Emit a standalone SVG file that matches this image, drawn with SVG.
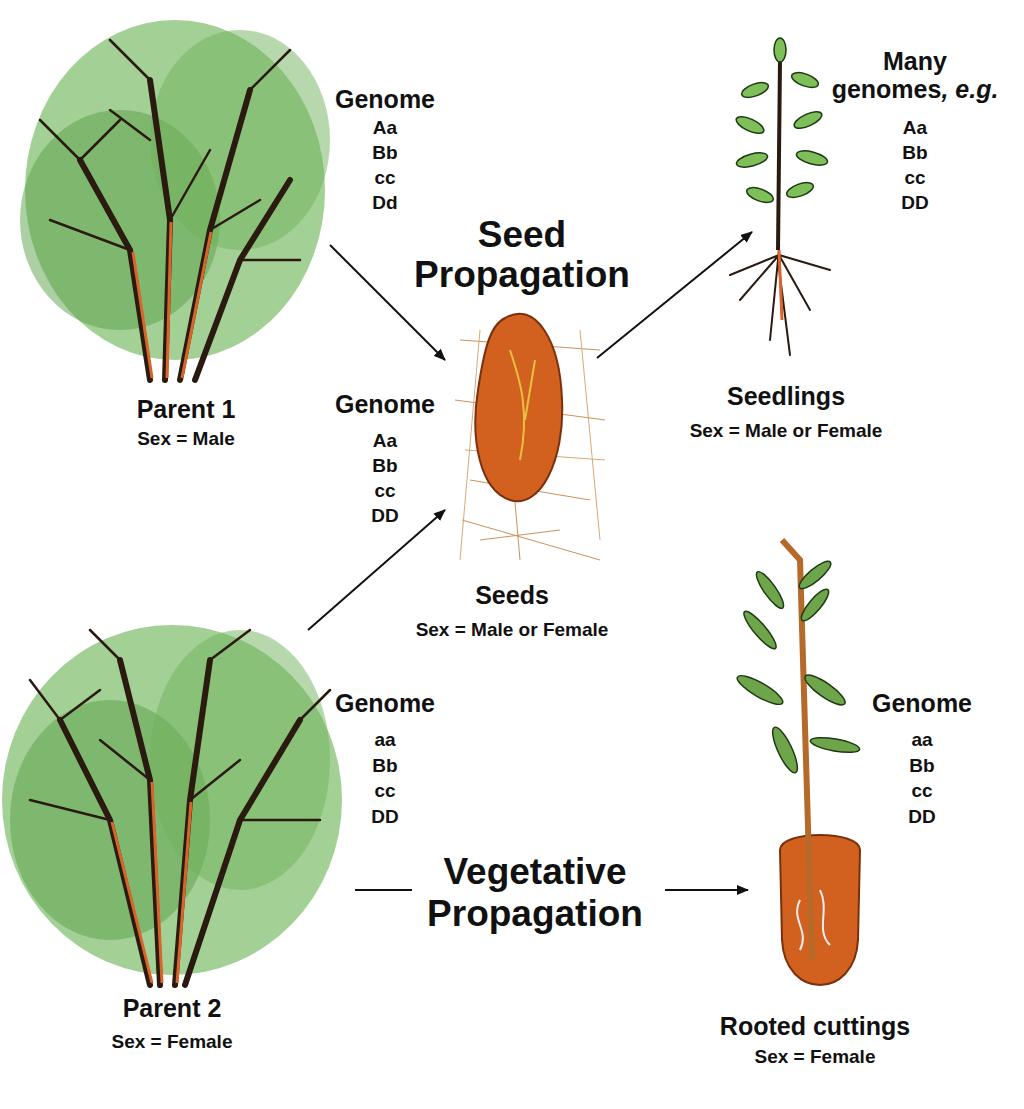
<svg xmlns="http://www.w3.org/2000/svg" width="1024" height="1109" viewBox="0 0 1024 1109">
<defs>
<style>
text{font-family:"Liberation Sans",Arial,sans-serif;font-weight:bold;fill:#111;text-anchor:middle}
.h{font-size:25px}.g{font-size:19px}.t{font-size:37px}.s{font-size:19px}
.con{stroke:#111;stroke-width:2;fill:none}
.leaf{fill:#7fbf5a;stroke:#1d3a12;stroke-width:1.5}
.br{stroke:#2a1a10;fill:none;stroke-linecap:round}
.tr{stroke:#d9652a;stroke-width:3;fill:none}
</style>
<marker id="a" markerWidth="12" markerHeight="10" refX="11" refY="5" orient="auto" markerUnits="userSpaceOnUse"><path d="M0,0L12,5L0,10z" fill="#111"/></marker>
</defs>
<rect width="1024" height="1109" fill="#fff"/>
<g id="parent1">
<ellipse cx="175" cy="190" rx="150" ry="170" fill="#8cc47a" opacity="0.8"/>
<ellipse cx="120" cy="220" rx="100" ry="110" fill="#5aa04a" opacity="0.5"/>
<ellipse cx="240" cy="140" rx="90" ry="110" fill="#6fb25c" opacity="0.5"/>
<path class="br" stroke-width="6" d="M150,380 L130,250 L80,160 M165,380 L170,220 L150,80 M180,380 L210,230 L250,90 M195,380 L240,260 L290,180"/>
<path class="br" stroke-width="2.5" d="M130,250 L50,220 M80,160 L40,120 M150,80 L110,40 M170,220 L210,150 M210,230 L260,200 M250,90 L290,50 M240,260 L300,260 M80,160 L120,120 M150,140 L110,110"/>
<path class="tr" d="M152,378 L133,252 M167,378 L171,222 M182,378 L211,232"/>
<text class="h" x="186" y="418">Parent 1</text>
<text class="s" x="186" y="445">Sex = Male</text>
</g>
<g id="genome1">
<text class="h" x="385" y="108">Genome</text>
<text class="g" x="385" y="134">Aa</text><text class="g" x="385" y="159">Bb</text><text class="g" x="385" y="184">cc</text><text class="g" x="385" y="209">Dd</text>
</g>
<g id="seedprop"><text class="t" x="522" y="247">Seed</text><text class="t" x="522" y="287">Propagation</text></g>
<g id="seeds">
<path d="M460,340 L600,350 M455,400 L605,420 M470,480 L590,500 M480,540 L560,530 M462,520 L600,560 M500,330 L520,560" stroke="#c8925a" stroke-width="1" fill="none"/>
<path d="M480,330 L460,560 M580,330 L600,540 M465,450 L605,460" stroke="#d8a878" stroke-width="1" fill="none"/>
<path d="M505,318 C535,300 560,340 562,400 C565,460 540,510 510,500 C480,490 470,440 478,390 C484,350 490,325 505,318Z" fill="#d2601f" stroke="#7a300c" stroke-width="2"/>
<path d="M510,350 C520,380 530,410 520,460 M535,360 L525,420" stroke="#e8c040" stroke-width="2" fill="none"/>
<text class="h" x="512" y="604">Seeds</text>
<text class="s" x="512" y="636">Sex = Male or Female</text>
</g>
<g id="genome2">
<text class="h" x="385" y="413">Genome</text>
<text class="g" x="385" y="447">Aa</text><text class="g" x="385" y="472">Bb</text><text class="g" x="385" y="497">cc</text><text class="g" x="385" y="522">DD</text>
</g>
<g id="seedlings">
<path d="M778,250 L780,60" stroke="#2a1a10" stroke-width="4"/>
<path d="M779,250 L770,340 M779,255 L740,300 M779,255 L810,310 M778,260 L790,355 M779,255 L730,275 M779,255 L830,270" class="br" stroke-width="2"/>
<path d="M779,250 L782,320" stroke="#d9652a" stroke-width="3"/>
<g class="leaf">
<ellipse cx="755" cy="90" rx="14" ry="6" transform="rotate(-20 755 90)"/><ellipse cx="805" cy="80" rx="14" ry="6" transform="rotate(20 805 80)"/>
<ellipse cx="750" cy="125" rx="15" ry="6" transform="rotate(25 750 125)"/><ellipse cx="808" cy="120" rx="15" ry="6" transform="rotate(-25 808 120)"/>
<ellipse cx="752" cy="160" rx="16" ry="6" transform="rotate(-15 752 160)"/><ellipse cx="812" cy="158" rx="16" ry="6" transform="rotate(15 812 158)"/>
<ellipse cx="760" cy="195" rx="14" ry="6" transform="rotate(20 760 195)"/><ellipse cx="800" cy="190" rx="14" ry="6" transform="rotate(-20 800 190)"/>
<ellipse cx="780" cy="50" rx="6" ry="12"/>
</g>
<text class="h" x="786" y="405">Seedlings</text>
<text class="s" x="786" y="437">Sex = Male or Female</text>
</g>
<g id="genome3">
<text class="h" x="915" y="70">Many</text>
<text class="h" x="915" y="98">genomes<tspan font-style="italic">, e.g.</tspan></text>
<text class="g" x="915" y="134">Aa</text><text class="g" x="915" y="159">Bb</text><text class="g" x="915" y="184">cc</text><text class="g" x="915" y="209">DD</text>
</g>
<g id="parent2">
<ellipse cx="172" cy="800" rx="170" ry="175" fill="#8cc47a" opacity="0.8"/>
<ellipse cx="110" cy="820" rx="100" ry="120" fill="#5aa04a" opacity="0.5"/>
<ellipse cx="240" cy="760" rx="90" ry="130" fill="#6fb25c" opacity="0.5"/>
<path class="br" stroke-width="6" d="M150,985 L110,820 L60,720 M160,985 L150,780 L120,660 M175,985 L190,800 L210,660 M185,985 L240,820 L300,720"/>
<path class="br" stroke-width="2.5" d="M110,820 L30,800 M60,720 L30,680 M120,660 L90,630 M150,780 L100,740 M190,800 L240,760 M210,660 L250,630 M240,820 L320,820 M300,720 L330,690 M60,720 L100,690"/>
<path class="tr" d="M152,983 L112,822 M162,983 L152,782 M177,983 L191,802"/>
<text class="h" x="172" y="1017">Parent 2</text>
<text class="s" x="172" y="1048">Sex = Female</text>
</g>
<g id="genome4">
<text class="h" x="385" y="712">Genome</text>
<text class="g" x="385" y="746">aa</text><text class="g" x="385" y="772">Bb</text><text class="g" x="385" y="797">cc</text><text class="g" x="385" y="823">DD</text>
</g>
<g id="vegprop"><text class="t" x="535" y="884">Vegetative</text><text class="t" x="535" y="926">Propagation</text></g>
<g id="cuttings">
<path d="M780,850 C780,830 860,830 860,850 L858,940 C855,1000 785,1000 782,940Z" fill="#d2601f" stroke="#7a300c" stroke-width="2"/>
<path d="M812,960 L800,560 L782,540" stroke="#b66a2a" stroke-width="6" fill="none"/>
<path d="M800,900 C790,920 810,930 800,950 M820,890 C830,910 815,930 830,945" stroke="#eee" stroke-width="2" fill="none"/>
<g fill="#6ea44a" stroke="#1d3a12" stroke-width="1.5">
<ellipse cx="770" cy="590" rx="22" ry="6" transform="rotate(55 770 590)"/><ellipse cx="815" cy="575" rx="20" ry="6" transform="rotate(-40 815 575)"/>
<ellipse cx="760" cy="630" rx="24" ry="6" transform="rotate(50 760 630)"/><ellipse cx="815" cy="605" rx="20" ry="6" transform="rotate(-50 815 605)"/>
<ellipse cx="760" cy="690" rx="26" ry="7" transform="rotate(30 760 690)"/><ellipse cx="825" cy="690" rx="24" ry="7" transform="rotate(35 825 690)"/>
<ellipse cx="785" cy="750" rx="25" ry="7" transform="rotate(65 785 750)"/><ellipse cx="835" cy="745" rx="25" ry="6" transform="rotate(10 835 745)"/>
</g>
<text class="h" x="815" y="1035">Rooted cuttings</text>
<text class="s" x="815" y="1063">Sex = Female</text>
</g>
<g id="genome5">
<text class="h" x="922" y="712">Genome</text>
<text class="g" x="922" y="746">aa</text><text class="g" x="922" y="772">Bb</text><text class="g" x="922" y="797">cc</text><text class="g" x="922" y="823">DD</text>
</g>
<g id="connectors">
<line class="con" x1="330" y1="245" x2="445" y2="360" marker-end="url(#a)"/>
<line class="con" x1="597" y1="358" x2="752" y2="232" marker-end="url(#a)"/>
<line class="con" x1="308" y1="630" x2="445" y2="510" marker-end="url(#a)"/>
<line class="con" x1="355" y1="890" x2="412" y2="890"/>
<line class="con" x1="665" y1="890" x2="748" y2="890" marker-end="url(#a)"/>
</g>
</svg>
